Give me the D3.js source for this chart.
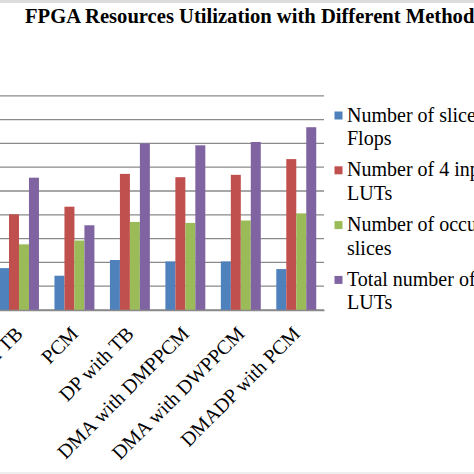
<!DOCTYPE html>
<html>
<head>
<meta charset="utf-8">
<script src="https://cdn.jsdelivr.net/npm/d3@7/dist/d3.min.js"></script>
<style>
  html, body { margin: 0; padding: 0; background: #fff; }
  svg { display: block; }
</style>
</head>
<body>
<svg id="chart" width="474" height="474"></svg>
<script>
const categories = ["DM with TB", "PCM", "DP with TB", "DMA with DMPPCM", "DMA with DWPPCM", "DMADP with PCM"];
const seriesNames = [
  ["Number of slices Flip", "Flops"],
  ["Number of 4 input", "LUTs"],
  ["Number of occupied", "slices"],
  ["Total number of 4 input", "LUTs"]
];
const sliceFlipFlops = [88, 72, 105, 102, 102, 86];
const fourInputLUTs = [201, 217, 286, 279, 284, 317];
const occupiedSlices = [138, 146, 185, 183, 188, 203];
const totalFourInputLUTs = [278, 178, 350, 346, 353, 384];
const yTicks = [0, 50, 100, 150, 200, 250, 300, 350, 400, 450];
const colors = ["#4F81BD", "#C0504D", "#9BBB59", "#8064A2"];

const series = [sliceFlipFlops, fourInputLUTs, occupiedSlices, totalFourInputLUTs];

const svg = d3.select("#chart");
const W = 474, H = 474;
const serif = "Liberation Serif, Times New Roman, serif";

// gray strips
svg.append("rect").attr("x", 0).attr("y", 0).attr("width", W).attr("height", 3).attr("fill", "#dcdcdc");
svg.append("rect").attr("x", 0).attr("y", 472).attr("width", W).attr("height", 2).attr("fill", "#eeeeee");

const plotLeft = -8.75, plotRight = 324;
const x0 = d3.scaleBand().domain(categories).range([plotLeft, plotRight]).paddingInner(0.28).paddingOuter(0.14);
const x1 = d3.scaleBand().domain(d3.range(4)).range([0, x0.bandwidth()]);
const y = d3.scaleLinear().domain([0, 450]).range([310, 95.8]);

// gridlines
svg.append("g").selectAll("line").data(yTicks).join("line")
  .attr("x1", 0).attr("x2", plotRight)
  .attr("y1", d => y(d)).attr("y2", d => y(d))
  .attr("stroke", "#8a8a8a").attr("stroke-width", 1.3);

// bars
const g = svg.append("g");
categories.forEach((c, ci) => {
  series.forEach((s, si) => {
    g.append("rect")
      .attr("x", x0(c) + x1(si))
      .attr("y", y(s[ci]))
      .attr("width", x1.bandwidth())
      .attr("height", y(0) - y(s[ci]))
      .attr("fill", colors[si]);
  });
});

// baseline axis
const xAxis = d3.axisBottom(x0).tickSize(0).tickFormat("");
const ax = svg.append("g").attr("transform", "translate(0,310)").call(xAxis);
ax.select(".domain").attr("stroke", "#8a8a8a").attr("stroke-width", 1.3);

// rotated labels
svg.append("g").selectAll("text").data(categories).join("text")
  .attr("transform", d => `translate(${x0(d) + x0.bandwidth() / 2 + 5},${335}) rotate(-45)`)
  .attr("text-anchor", "end")
  .attr("font-family", serif)
  .attr("font-size", 20)
  .attr("fill", "#000")
  .text(d => d);

// title
svg.append("text")
  .attr("x", 25).attr("y", 23)
  .attr("font-family", serif)
  .attr("font-weight", "bold")
  .attr("font-size", 20.6)
  .attr("fill", "#000")
  .text("FPGA Resources Utilization with Different Methods");

// legend
const legend = svg.append("g");
seriesNames.forEach((lines, i) => {
  const by = 121.5 + i * 54.8;
  legend.append("rect").attr("x", 334.5).attr("y", by - 10).attr("width", 8).attr("height", 8).attr("fill", colors[i]);
  const t = legend.append("text")
    .attr("font-family", serif)
    .attr("font-size", 20).attr("fill", "#000");
  lines.forEach((ln, li) => {
    t.append("tspan").attr("x", 347).attr("y", by + li * 23.5).text(ln);
  });
});
</script>
</body>
</html>
